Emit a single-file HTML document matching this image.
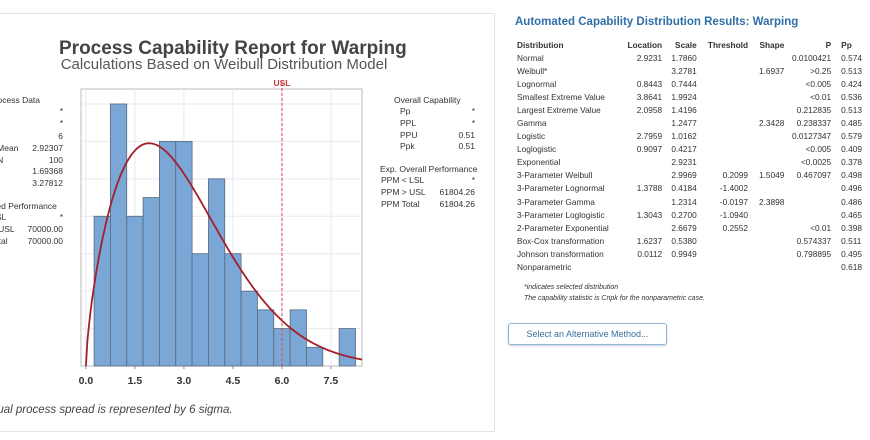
<!DOCTYPE html>
<html><head><meta charset="utf-8">
<style>
body{margin:0;width:870px;height:440px;background:#fff;overflow:hidden;font-family:"Liberation Sans",sans-serif;position:relative}
.t{position:absolute;white-space:nowrap;color:#333;font-size:8.5px}
.r{text-align:right}
#report{position:absolute;left:-2px;top:13px;width:495px;height:417px;border:1px solid #e3e3e3;overflow:hidden}
table{position:absolute;left:513px;top:38px;border-collapse:collapse;font-size:8.3px;color:#333}
td,th{padding:0 0 0 0;height:13.1px;white-space:nowrap}
th{font-weight:bold;text-align:right;height:13px}
th:first-child,td:first-child{text-align:left;padding-left:4px}
td.n{text-align:right}
</style></head><body>
<div id="report">
<div class="t" style="left:60px;top:24px;font-size:19px;font-weight:bold;color:#444;width:330px;text-align:center">Process Capability Report for Warping</div>
<div class="t" style="left:40px;top:42px;font-size:15px;color:#555;width:370px;text-align:center">Calculations Based on Weibull Distribution Model</div>

<div>
<div class="t" style="left:-10px;top:81px">Process Data</div>
<div class="t" style="left:-30px;top:92px">LSL</div><div class="t r" style="left:0;width:64px;top:92px">*</div>
<div class="t" style="left:-30px;top:104px">Target</div><div class="t r" style="left:0;width:64px;top:104px">*</div>
<div class="t" style="left:-30px;top:117px">USL</div><div class="t r" style="left:0;width:64px;top:117px">6</div>
<div class="t" style="left:-33px;top:129px">Sample Mean</div><div class="t r" style="left:0;width:64px;top:129px">2.92307</div>
<div class="t" style="left:-33px;top:141px">Sample N</div><div class="t r" style="left:0;width:64px;top:141px">100</div>
<div class="t" style="left:-30px;top:152px">Shape</div><div class="t r" style="left:0;width:64px;top:152px">1.69368</div>
<div class="t" style="left:-30px;top:164px">Scale</div><div class="t r" style="left:0;width:64px;top:164px">3.27812</div>
<div class="t" style="left:-30px;top:187px">Observed Performance</div>
<div class="t" style="left:-36px;top:198px">PPM &lt; LSL</div><div class="t r" style="left:0;width:64px;top:198px">*</div>
<div class="t" style="left:-29px;top:210px">PPM &gt; USL</div><div class="t r" style="left:0;width:64px;top:210px">70000.00</div>
<div class="t" style="left:-30px;top:222px">PPM Total</div><div class="t r" style="left:0;width:64px;top:222px">70000.00</div>
</div>

<div>
<div class="t" style="left:395px;top:81px">Overall Capability</div>
<div class="t" style="left:401px;top:92px">Pp</div><div class="t r" style="left:420px;width:56px;top:92px">*</div>
<div class="t" style="left:401px;top:104px">PPL</div><div class="t r" style="left:420px;width:56px;top:104px">*</div>
<div class="t" style="left:401px;top:116px">PPU</div><div class="t r" style="left:420px;width:56px;top:116px">0.51</div>
<div class="t" style="left:401px;top:127px">Ppk</div><div class="t r" style="left:420px;width:56px;top:127px">0.51</div>
<div class="t" style="left:381px;top:150px">Exp. Overall Performance</div>
<div class="t" style="left:382px;top:161px">PPM &lt; LSL</div><div class="t r" style="left:420px;width:56px;top:161px">*</div>
<div class="t" style="left:382px;top:173px">PPM &gt; USL</div><div class="t r" style="left:420px;width:56px;top:173px">61804.26</div>
<div class="t" style="left:382px;top:185px">PPM Total</div><div class="t r" style="left:420px;width:56px;top:185px">61804.26</div>
</div>
<div class="t" style="left:-40px;top:390px;font-size:11.5px;font-style:italic;color:#444">The actual process spread is represented by 6 sigma.</div>
</div>

<svg id="chart" width="870" height="440" style="position:absolute;left:0;top:0"></svg>

<div class="t" style="left:515px;top:16px;font-size:11.5px;font-weight:bold;color:#2f6ea8">Automated Capability Distribution Results: Warping</div>
<table>
<colgroup><col style="width:100px"><col style="width:52px"><col style="width:36px"><col style="width:53px"><col style="width:38px"><col style="width:48px"><col style="width:40px"></colgroup>
<tr><th>Distribution</th><th>Location</th><th>Scale</th><th>Threshold</th><th>Shape</th><th>P</th><th style="text-align:left;padding-left:10px">Pp</th></tr>
<tr><td>Normal</td><td class="n">2.9231</td><td class="n">1.7860</td><td></td><td></td><td class="n">0.0100421</td><td style="padding-left:10px">0.574</td></tr>
<tr><td>Weibull*</td><td></td><td class="n">3.2781</td><td></td><td class="n">1.6937</td><td class="n">&gt;0.25</td><td style="padding-left:10px">0.513</td></tr>
<tr><td>Lognormal</td><td class="n">0.8443</td><td class="n">0.7444</td><td></td><td></td><td class="n">&lt;0.005</td><td style="padding-left:10px">0.424</td></tr>
<tr><td>Smallest Extreme Value</td><td class="n">3.8641</td><td class="n">1.9924</td><td></td><td></td><td class="n">&lt;0.01</td><td style="padding-left:10px">0.536</td></tr>
<tr><td>Largest Extreme Value</td><td class="n">2.0958</td><td class="n">1.4196</td><td></td><td></td><td class="n">0.212835</td><td style="padding-left:10px">0.513</td></tr>
<tr><td>Gamma</td><td></td><td class="n">1.2477</td><td></td><td class="n">2.3428</td><td class="n">0.238337</td><td style="padding-left:10px">0.485</td></tr>
<tr><td>Logistic</td><td class="n">2.7959</td><td class="n">1.0162</td><td></td><td></td><td class="n">0.0127347</td><td style="padding-left:10px">0.579</td></tr>
<tr><td>Loglogistic</td><td class="n">0.9097</td><td class="n">0.4217</td><td></td><td></td><td class="n">&lt;0.005</td><td style="padding-left:10px">0.409</td></tr>
<tr><td>Exponential</td><td></td><td class="n">2.9231</td><td></td><td></td><td class="n">&lt;0.0025</td><td style="padding-left:10px">0.378</td></tr>
<tr><td>3-Parameter Weibull</td><td></td><td class="n">2.9969</td><td class="n">0.2099</td><td class="n">1.5049</td><td class="n">0.467097</td><td style="padding-left:10px">0.498</td></tr>
<tr><td>3-Parameter Lognormal</td><td class="n">1.3788</td><td class="n">0.4184</td><td class="n">-1.4002</td><td></td><td></td><td style="padding-left:10px">0.496</td></tr>
<tr><td>3-Parameter Gamma</td><td></td><td class="n">1.2314</td><td class="n">-0.0197</td><td class="n">2.3898</td><td></td><td style="padding-left:10px">0.486</td></tr>
<tr><td>3-Parameter Loglogistic</td><td class="n">1.3043</td><td class="n">0.2700</td><td class="n">-1.0940</td><td></td><td></td><td style="padding-left:10px">0.465</td></tr>
<tr><td>2-Parameter Exponential</td><td></td><td class="n">2.6679</td><td class="n">0.2552</td><td></td><td class="n">&lt;0.01</td><td style="padding-left:10px">0.398</td></tr>
<tr><td>Box-Cox transformation</td><td class="n">1.6237</td><td class="n">0.5380</td><td></td><td></td><td class="n">0.574337</td><td style="padding-left:10px">0.511</td></tr>
<tr><td>Johnson transformation</td><td class="n">0.0112</td><td class="n">0.9949</td><td></td><td></td><td class="n">0.798895</td><td style="padding-left:10px">0.495</td></tr>
<tr><td>Nonparametric</td><td></td><td></td><td></td><td></td><td></td><td style="padding-left:10px">0.618</td></tr>
</table>
<div class="t" style="left:524px;top:284px;font-size:7px;font-style:italic">*indicates selected distribution</div>
<div class="t" style="left:524px;top:295px;font-size:7px;font-style:italic">The capability statistic is Cnpk for the nonparametric case.</div>
<div style="position:absolute;left:508px;top:323px;width:157px;height:20px;border:1.5px solid #8db3d9;border-radius:3px;font-size:9px;color:#3a6fa0;text-align:center;line-height:20px;box-shadow:0 1px 2px #ccd">Select an Alternative Method...</div>

<script>
const binStarts=[0.25,0.75,1.25,1.75,2.25,2.75,3.25,3.75,4.25,4.75,5.25,5.75,6.25,6.75,7.25,7.75];
const counts=[8,14,8,9,12,12,6,10,6,4,3,2,3,1,0,2];
const binWidth=0.5;
const xTicks=[0.0,1.5,3.0,4.5,6.0,7.5];
const xTickLabels=["0.0","1.5","3.0","4.5","6.0","7.5"];
const yGrid=[2,4,6,8,10,12,14];
const usl=6;
const weibullShape=1.6937, weibullScale=3.2781, sampleN=100;

const svg=document.getElementById('chart');
const NS='http://www.w3.org/2000/svg';
const PL=81,PR=362,PT=89,PB=366;
const XMIN=-0.15,XMAX=8.45,YMAX=14.8;
const X=v=>PL+(v-XMIN)/(XMAX-XMIN)*(PR-PL);
const Y=v=>PB-v/YMAX*(PB-PT);
function mk(tag,attrs){const e=document.createElementNS(NS,tag);for(const k in attrs)e.setAttribute(k,attrs[k]);svg.appendChild(e);return e;}

const bg=mk('rect',{x:PL,y:PT,width:PR-PL,height:PB-PT,fill:'#fff',stroke:'#bbb','stroke-width':1});


xTicks.forEach(t=>{const l=mk('line',{x1:X(t),x2:X(t),y1:PT,y2:PB,stroke:'#e6e9ee','stroke-width':1});

});
yGrid.forEach(t=>{const l=mk('line',{x1:PL,x2:PR,y1:Y(t),y2:Y(t),stroke:'#e6e9ee','stroke-width':1});

});
binStarts.forEach((b,i)=>{if(counts[i]<=0)return;
const r=mk('rect',{x:X(b),y:Y(counts[i]),width:X(b+binWidth)-X(b),height:Y(0)-Y(counts[i]),fill:'#7ba7d7',stroke:'#5a6a7a','stroke-width':0.8});

});
let d='';
for(let x=0;x<=XMAX;x+=0.05){const z=x/weibullScale;const f=(weibullShape/weibullScale)*Math.pow(z,weibullShape-1)*Math.exp(-Math.pow(z,weibullShape));
d+=(d?'L':'M')+X(x).toFixed(1)+','+Y(f*sampleN*binWidth).toFixed(1);}
const c=mk('path',{d:d,fill:'none',stroke:'#a3202b','stroke-width':1.8});


const u=mk('line',{x1:X(usl),x2:X(usl),y1:PT-6,y2:PB,stroke:'#e0444a','stroke-width':1,'stroke-dasharray':'3,2'});


const ul=mk('text',{x:X(usl),y:PT-3,'text-anchor':'middle','font-size':8.5,'font-weight':'bold',fill:'#c0393f','font-family':'Liberation Sans, sans-serif'});
ul.textContent='USL';


xTicks.forEach((t,i)=>{const tk=mk('line',{x1:X(t),x2:X(t),y1:PB,y2:PB+3,stroke:'#888'});


const tx=mk('text',{x:X(t),y:PB+18,'text-anchor':'middle','font-size':10.5,'font-weight':'bold',fill:'#333','font-family':'Liberation Sans, sans-serif'});
tx.textContent=xTickLabels[i];

});
</script>
</body></html>
